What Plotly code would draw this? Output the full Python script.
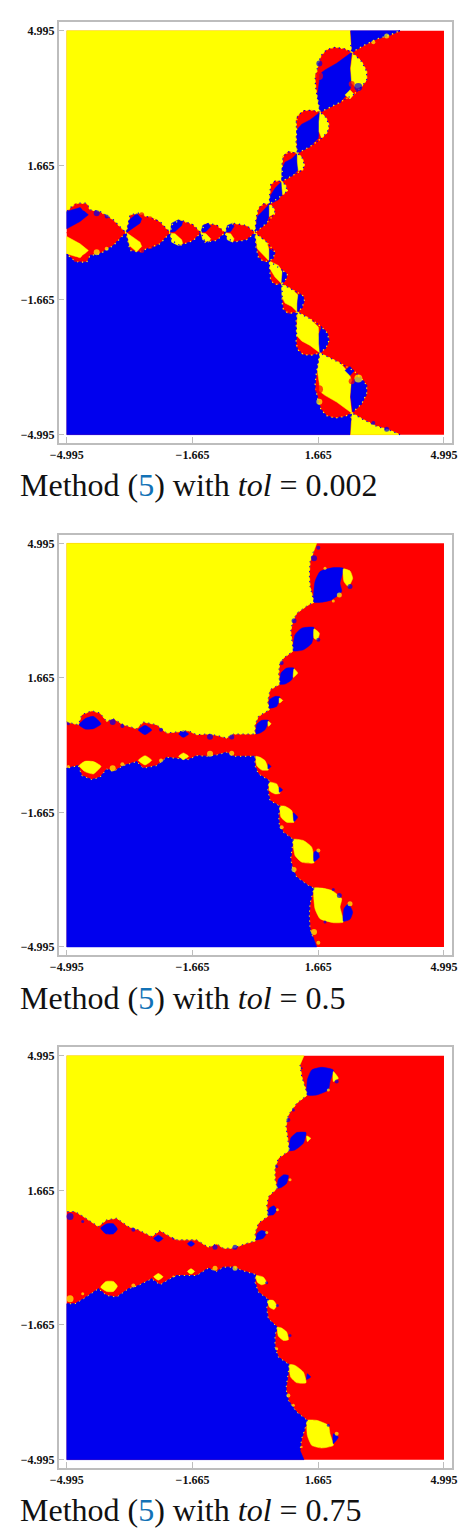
import plotly.graph_objects as go

W, H = 474, 1538
TICK_VALUES = [-4.995, -1.665, 1.665, 4.995]
TICK_LABELS = ["\u22124.995", "\u22121.665", "1.665", "4.995"]
CAPTION_TOL = ["0.002", "0.5", "0.75"]
RED, BLUE, YEL = "#ff0000", "#0000ee", "#ffff00"

# Region outlines, in read-off grid units (grid x 200..1332, grid y top..top+1213).
# Only the upper half is listed: the pictures are mirror images about y=0 with blue and yellow swapped.
P1_TOP = 47
P1_YELLOW = [(1050,47),(1052,90),(1055,112),(1035,102),(1005,97),(980,104),(963,122),(955,145),(950,175),(945,195),(948,225),(954,260),(960,292),
 (935,286),(910,287),(893,303),(888,325),(890,345),(888,385),(892,415),(865,411),(850,424),(846,445),(847,470),(845,500),(825,498),(812,510),
 (809,540),(808,568),(790,567),(775,580),(768,610),(765,653),(740,632),(700,625),(680,640),(675,654),(650,630),(615,625),(603,654),
 (580,630),(540,615),(515,630),(511,654),(480,620),(440,605),(415,595),(390,600),(378,654),(340,615),(300,590),(270,585),
 (260,565),(235,565),(215,575),(200,590)]
P1_BLUE_CELLS = [
 [(1052,47),(1200,47),(1170,60),(1130,72),(1090,92),(1056,112)],
 [(1055,112),(1010,145),(975,165),(958,178),(958,200),(952,240),(960,292),(1020,262),(1045,235),(1055,210),(1050,160)],
 [(960,292),(930,315),(905,328),(890,345),(892,415),(930,395),(955,370),(957,340)],
 [(892,415),(875,432),(855,442),(846,460),(845,500),(880,480),(895,465),(892,440)],
 [(845,500),(825,520),(810,545),(808,568),(835,555),(848,535)],
 [(808,568),(790,585),(772,605),(765,652),(800,625),(808,600)],
 [(677,653),(682,632),(698,625),(702,635),(692,650)],
 [(603,653),(608,632),(625,625),(632,635),(618,650)],
 [(511,652),(515,625),(535,615),(548,620),(545,632),(525,650)],
 [(380,653),(388,615),(410,596),(425,612),(420,625),(400,640)],
 [(200,642),(200,590),(240,578),(265,600),(240,620)],
]
P1_YELLOW_CELLS = [
 [(1058,115),(1085,140),(1100,170),(1100,195),(1085,215),(1070,220),(1055,205),(1052,160)],
 [(960,292),(978,308),(987,330),(982,352),(965,370),(957,350),(957,320)],
 [(892,415),(906,428),(913,450),(908,465),(895,468),(892,440)],
 [(845,500),(856,510),(862,528),(848,540),(846,520)],
 [(808,568),(820,578),(825,595),(808,605)],
 [(1035,240),(1050,225),(1062,238),(1050,252)],
]
P1_RED_CELLS = [
 [(1055,112),(1035,102),(1005,98),(980,105),(965,125),(968,145),(975,165),(1010,145),(1040,125)],
 [(960,292),(935,286),(910,288),(893,303),(888,318),(905,328),(930,315)],
 [(892,415),(865,410),(848,425),(855,440),(875,432)],
 [(845,500),(825,498),(812,512),(825,520)],
 [(808,568),(790,567),(776,580),(790,585)],
 [(765,654),(740,634),(715,630),(695,640),(675,654),(765,654)],
 [(675,654),(650,632),(630,630),(612,650),(603,654)],
 [(603,654),(575,628),(548,620),(530,650),(511,654)],
 [(511,654),(470,615),(440,605),(430,625),(378,654)],
 [(378,654),(335,618),(300,600),(270,600),(200,654)],
]
P1_EDGE = [(1200,47),(1170,60),(1130,72),(1090,92),(1056,112),(1085,140),(1100,170),(1100,195),(1085,215),(1062,238),(1020,262),
 (960,292),(978,308),(987,330),(982,352),(965,370),(930,395),(892,415),(906,428),(913,450),(908,465),(880,480),(845,500),(856,510),(862,528),(848,540),
 (808,568),(820,578),(825,595),(800,625),(765,653)]
P1_DOT_X = [958,957,1075,1055,425,450,255,228,290,320,1160,1120]
P1_DOT_Y = [146,183,216,207,600,612,578,573,595,605,63,82]
P1_DOT_D = [6,8,8,6,5,5,7,5,6,4,5,4]
P1_DOT_C = ["b","r","b","r","r","r","r","r","b","b","y","y"]

P2_TOP = 55
P2_YELLOW = [(950,55),(940,80),(930,110),(928,150),(930,185),(942,232),(925,240),(890,265),(878,290),(872,320),(880,378),
 (850,400),(838,420),(836,450),(840,478),(810,495),(803,530),(808,555),(775,575),(765,600),(765,628),(730,628),(700,628),
 (680,640),(650,632),(620,628),(590,630),(565,618),(530,622),(500,625),(470,600),(430,592),(410,612),(370,600),(340,582),
 (320,590),(300,565),(275,558),(245,570),(235,600),(200,592)]
P2_BLUE_CELLS = [
 [(942,232),(945,170),(960,140),(1000,128),(1030,130),(1020,175),(1025,200),(995,225),(965,232)],
 [(880,378),(885,330),(905,310),(942,308),(935,355),(910,375)],
 [(840,478),(843,445),(860,430),(882,430),(875,465),(855,478)],
 [(808,550),(808,525),(825,515),(840,517),(830,545)],
 [(768,628),(770,600),(785,587),(805,587),(795,615),(780,625)],
 [(237,600),(255,582),(280,575),(303,598),(280,612),(255,613)],
 [(415,616),(435,602),(455,616),(435,630)],
 [(536,628),(550,618),(566,628),(550,638)],
]
P2_YELLOW_CELLS = [
 [(1030,132),(1050,138),(1058,160),(1045,185),(1032,170)],
 [(942,312),(958,325),(952,345),(942,340)],
 [(882,432),(893,445),(880,458)],
 [(838,520),(848,527),(838,535)],
 [(804,590),(813,597),(805,605)],
]
P2_DOT_X = [1050,942,1018,955,882,955,845,338,367,483,630,695,205,1000,975]
P2_DOT_Y = [185,100,210,68,288,345,415,592,604,615,636,637,597,228,130]
P2_DOT_D = [5,6,5,4,5,4,4,6,4,4,6,5,3,3,3]
P2_DOT_C = ["b","b","y","b","b","b","b","b","b","b","b","b","b","y","y"]

P3_TOP = 47
P3_YELLOW = [(912,47),(900,75),(905,110),(915,140),(922,165),(890,190),(865,225),(858,260),(868,332),(835,355),(825,385),
 (825,420),(832,445),(805,470),(800,500),(805,528),(775,550),(765,580),(767,603),(735,612),(700,625),(670,625),(650,612),
 (625,622),(590,600),(570,600),(530,600),(510,590),(480,572),(455,590),(415,570),(385,560),(350,535),(320,540),(295,560),
 (250,530),(225,515),(200,515)]
P3_BLUE_CELLS = [
 [(922,165),(922,120),(935,90),(965,82),(1000,90),(990,125),(985,150),(950,165)],
 [(868,332),(872,295),(890,278),(918,278),(910,310),(885,330)],
 [(832,445),(835,418),(850,405),(865,407),(860,430),(845,442)],
 [(803,525),(808,505),(822,498),(830,510),(820,525)],
 [(768,600),(772,580),(785,572),(800,578),(790,595)],
 [(302,565),(320,552),(340,552),(352,568),(340,582),(318,582)],
 [(461,596),(475,586),(489,596),(475,606)],
 [(562,612),(573,604),(584,612),(573,620)],
]
P3_YELLOW_CELLS = [
 [(1000,95),(1015,115),(1000,125)],
 [(920,288),(932,295),(922,305)],
]
P3_DOT_X = [1010,870,832,645,705,210,400,248,520,865,880,905,830,800,985]
P3_DOT_Y = [125,420,510,622,622,530,570,545,597,240,210,85,380,578,150]
P3_DOT_D = [4,3,3,5,5,7,4,3,2,4,3,2,3,3,3]
P3_DOT_C = ["b","y","y","b","b","b","b","b","b","b","b","b","b","y","y"]

PANELS = [
 dict(top=P1_TOP, yel=P1_YELLOW, blue=P1_BLUE_CELLS, ycell=P1_YELLOW_CELLS, red=P1_RED_CELLS, edge=P1_EDGE,
      dx=P1_DOT_X, dy=P1_DOT_Y, dd=P1_DOT_D, dc=P1_DOT_C, frame=(22.3, 443.0), cap=505, smooth=0),
 dict(top=P2_TOP, yel=P2_YELLOW, blue=P2_BLUE_CELLS, ycell=P2_YELLOW_CELLS, red=[], edge=[],
      dx=P2_DOT_X, dy=P2_DOT_Y, dd=P2_DOT_D, dc=P2_DOT_C, frame=(535.0, 955.3), cap=1018, smooth=0.5),
 dict(top=P3_TOP, yel=P3_YELLOW, blue=P3_BLUE_CELLS, ycell=P3_YELLOW_CELLS, red=[], edge=[],
      dx=P3_DOT_X, dy=P3_DOT_Y, dd=P3_DOT_D, dc=P3_DOT_C, frame=(1047.3, 1468.0), cap=1530, smooth=0.5),
]

def dx(g):
    return -4.995 + (g - 200) * 9.99 / 1132

def dy(g, top):
    return 4.995 - (g - top) * 9.99 / 1213

fig = go.Figure()

def polys(lists, top, color, flip, xa, ya, smooth=0.0):
    xs, ys = [], []
    for p in lists:
        for gx, gy in list(p) + [p[0]]:
            xs.append(dx(gx))
            v = dy(gy, top)
            ys.append(-v if flip else v)
        xs.append(None)
        ys.append(None)
    line = dict(color=color, width=0.5)
    if smooth:
        line.update(shape="spline", smoothing=smooth)
    fig.add_trace(go.Scatter(x=xs, y=ys, mode="lines", fill="toself", fillcolor=color,
                             line=line, xaxis=xa, yaxis=ya,
                             hoverinfo="skip", showlegend=False))

def dotted(line, top, flip, xa, ya, width=1.2):
    xs = [dx(p[0]) for p in line]
    ys = [(-1 if flip else 1) * dy(p[1], top) for p in line]
    for col, dash in ((BLUE, "1.2px,3.8px"), (YEL, "0px,2.5px,1.2px,1.3px")):
        fig.add_trace(go.Scatter(x=xs, y=ys, mode="lines",
                                 line=dict(color=col, width=width, dash=dash),
                                 xaxis=xa, yaxis=ya, hoverinfo="skip", showlegend=False))

SWAP = {"b": YEL, "y": BLUE, "r": RED}
SAME = {"b": BLUE, "y": YEL, "r": RED}
for i, p in enumerate(PANELS):
    n = "" if i == 0 else str(i + 1)
    xa, ya = "x" + n, "y" + n
    t = p["top"]
    s = p["smooth"]
    # whole square is red first
    fig.add_trace(go.Scatter(x=[-4.995, 4.995, 4.995, -4.995, -4.995], y=[-4.995, -4.995, 4.995, 4.995, -4.995],
                             mode="lines", fill="toself", fillcolor=RED, line=dict(color=RED, width=0),
                             xaxis=xa, yaxis=ya, hoverinfo="skip", showlegend=False))
    corner = [(200, t)]
    polys([p["yel"] + corner], t, YEL, False, xa, ya, 0)
    polys([p["yel"] + corner], t, BLUE, True, xa, ya, 0)
    if p["red"]:
        polys(p["red"], t, RED, False, xa, ya, s)
        polys(p["red"], t, RED, True, xa, ya, s)
    polys(p["blue"], t, BLUE, False, xa, ya, s)
    polys(p["ycell"], t, YEL, False, xa, ya, s)
    polys(p["blue"], t, YEL, True, xa, ya, s)
    polys(p["ycell"], t, BLUE, True, xa, ya, s)
    w = 1.2 if i == 0 else 1.0
    dotted(p["yel"][1:], t, False, xa, ya, w)
    dotted(p["yel"][1:], t, True, xa, ya, w)
    if p["edge"]:
        dotted(p["edge"], t, False, xa, ya, w)
        dotted(p["edge"], t, True, xa, ya, w)
    for flip, cmap in ((False, SAME), (True, SWAP)):
        fig.add_trace(go.Scatter(
            x=[dx(v) for v in p["dx"]],
            y=[(-1 if flip else 1) * dy(v, t) for v in p["dy"]],
            mode="markers",
            marker=dict(size=p["dd"], color=[cmap[c] for c in p["dc"]], line=dict(width=0)),
            xaxis=xa, yaxis=ya, hoverinfo="skip", showlegend=False))

    top_px, bot_px = p["frame"]
    tickfont = dict(family="Liberation Serif", size=12, color="#111111")
    axis = dict(showgrid=False, zeroline=False, showline=True, mirror=True, linecolor="#bdbdbd", linewidth=1.5,
                ticks="inside", ticklen=6, tickwidth=1, tickcolor="#bdbdbd", tickmode="array",
                tickvals=TICK_VALUES, ticktext=["<b>%s</b>" % s_ for s_ in TICK_LABELS], tickfont=tickfont,
                fixedrange=True, automargin=False)
    fig.update_layout(**{
        "xaxis" + n: dict(axis, range=[-5.207, 5.207], domain=[58.7 / W, 452 / W], anchor=ya),
        "yaxis" + n: dict(axis, range=[-5.201, 5.201], domain=[1 - bot_px / H, 1 - top_px / H], anchor=xa),
    })
    fig.add_annotation(xref="paper", yref="paper", x=20 / W, y=1 - p["cap"] / H, xanchor="left", yanchor="bottom",
                       showarrow=False, align="left", xshift=-2,
                       font=dict(family="Liberation Serif", size=32, color="#111111"),
                       text="Method (<span style='color:#1272b6'>5</span>) with <i>tol</i> = " + CAPTION_TOL[i])

fig.update_layout(width=W, height=H, autosize=False, margin=dict(l=0, r=0, t=0, b=0),
                  paper_bgcolor="white", plot_bgcolor="white", showlegend=False)
fig.write_html("out.html", config={"displayModeBar": False},
               post_script="document.body.style.margin='0';")
